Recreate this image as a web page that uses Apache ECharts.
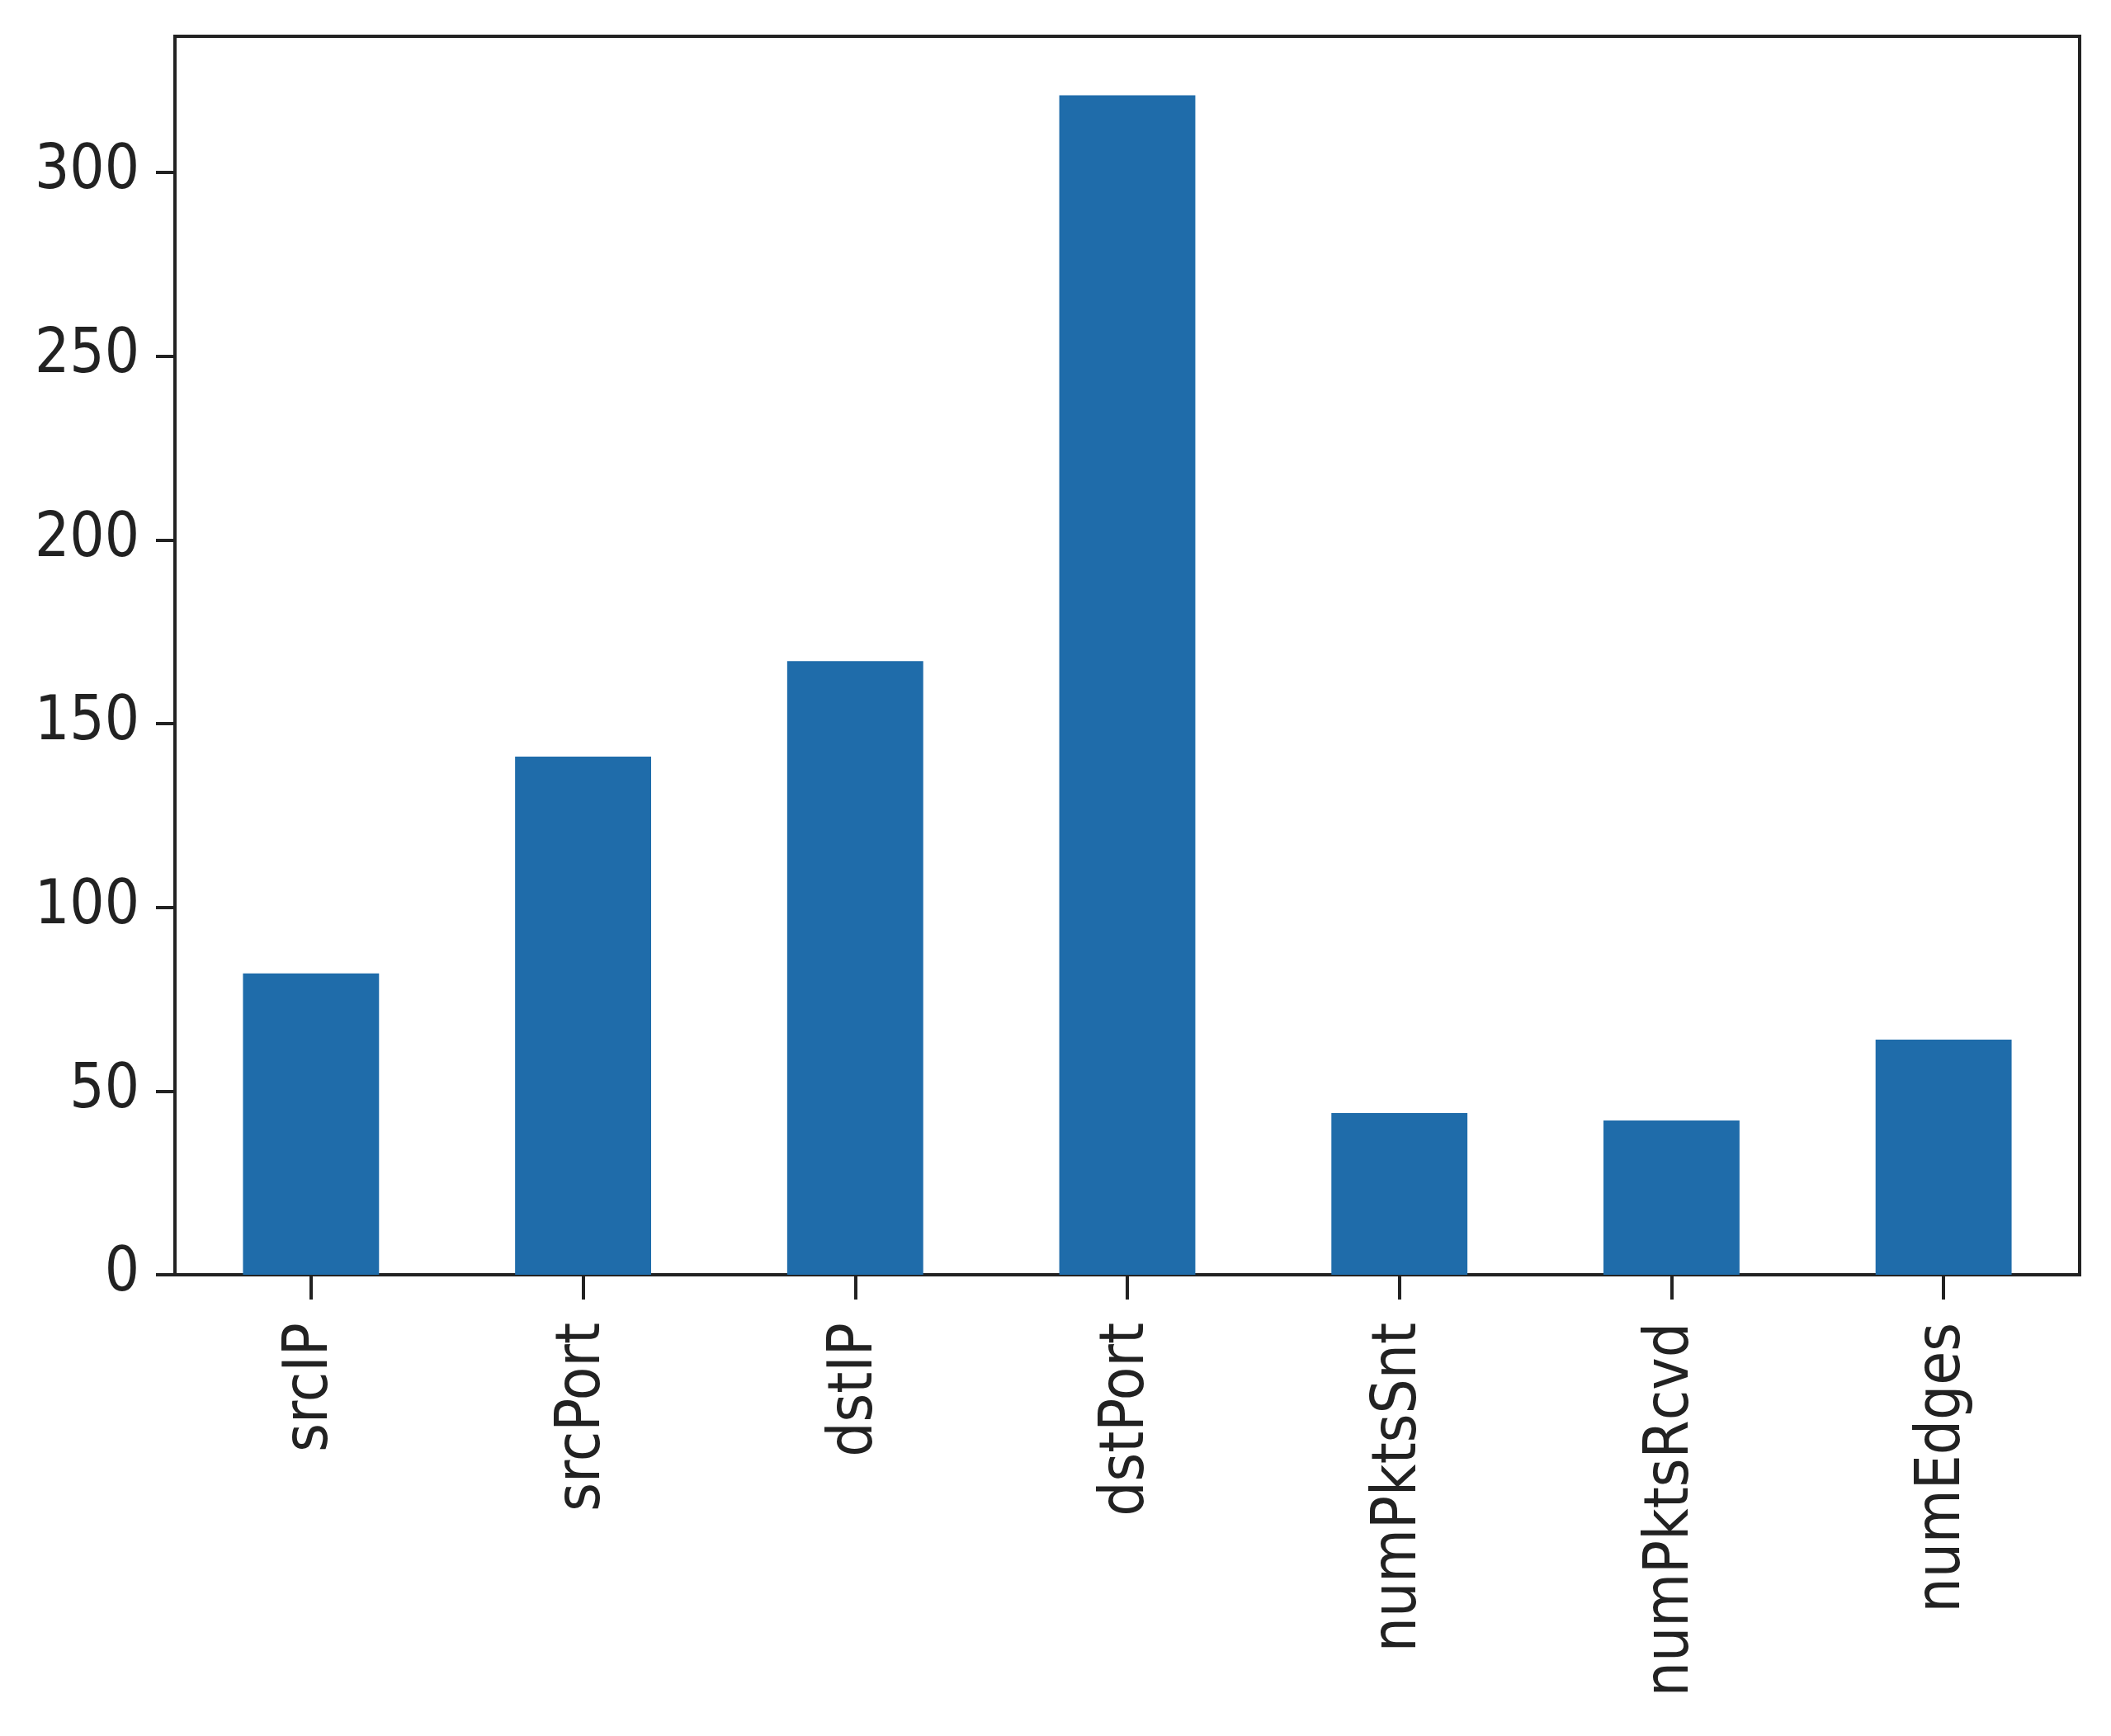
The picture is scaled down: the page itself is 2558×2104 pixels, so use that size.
<!DOCTYPE html>
<html>
<head>
<meta charset="utf-8">
<script src="https://cdn.jsdelivr.net/npm/echarts@6/dist/echarts.min.js"></script>
<style>
  html, body { margin: 0; padding: 0; background: #ffffff; }
  #chart { width: 2558px; height: 2104px; }
</style>
</head>
<body>
<div id="chart"></div>
<script>
const categories = ['srcIP', 'srcPort', 'dstIP', 'dstPort', 'numPktsSnt', 'numPktsRcvd', 'numEdges'];
const values = [82, 141, 167, 321, 44, 42, 64];
const yTicks = [0, 50, 100, 150, 200, 250, 300];

const FONT = '"DejaVu Sans Condensed", "DejaVu Sans", sans-serif';
const INK = '#222222';

const chart = echarts.init(document.getElementById('chart'), null, { renderer: 'canvas' });
chart.setOption({
  animation: false,
  backgroundColor: '#ffffff',
  grid: {
    left: 212, right: 38, top: 44, bottom: 559,
    show: true, borderColor: INK, borderWidth: 4, backgroundColor: 'transparent',
    containLabel: false
  },
  xAxis: {
    type: 'category',
    data: categories,
    boundaryGap: true,
    axisLine: { show: true, lineStyle: { color: INK, width: 4 } },
    axisTick: { show: true, alignWithLabel: true, length: 30, lineStyle: { color: INK, width: 4 } },
    axisLabel: {
      rotate: 90, margin: 58, interval: 0,
      fontFamily: FONT, fontSize: 74, color: INK
    },
    splitLine: { show: false }
  },
  yAxis: {
    type: 'value',
    min: 0,
    max: 337.05,
    axisLine: { show: true, lineStyle: { color: INK, width: 4 } },
    axisTick: { show: true, length: 23, lineStyle: { color: INK, width: 4 }, customValues: yTicks },
    axisLabel: {
      margin: 43, fontFamily: FONT, fontSize: 74, color: INK,
      customValues: yTicks
    },
    splitLine: { show: false }
  },
  series: [{
    type: 'bar',
    data: values,
    barWidth: '50%',
    itemStyle: { color: '#1f6caa' }
  }]
});
</script>
</body>
</html>
